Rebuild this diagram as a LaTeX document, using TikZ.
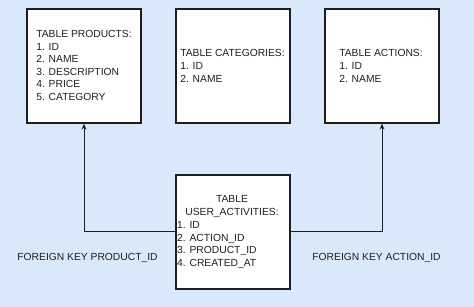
\documentclass[tikz,border=0pt]{standalone}
\usepackage{fontspec}
\setmainfont{Liberation Sans}
\usetikzlibrary{arrows.meta}
\definecolor{bgblue}{HTML}{DAE8FC}
\definecolor{ink}{HTML}{1E1E1E}
\begin{document}
\begin{tikzpicture}[x=1pt,y=-1pt,
  table/.style={draw=ink,line width=1.3pt,fill=white,minimum width=114pt,minimum height=114pt,inner sep=0pt},
  txt/.style={text=ink,font=\fontsize{10.3}{12.6}\selectfont,inner sep=0pt},
  fk/.style={draw=ink,line width=1pt,-{Stealth[length=6pt,width=5pt]}}]
\fill[bgblue] (0,0) rectangle (474,307);
\useasboundingbox (0,0) rectangle (474,307);
\node[table] (prod) at (84,66) {};
\node[table] (cat) at (233,66) {};
\node[table] (act) at (382,66) {};
\node[table] (ua) at (233,232) {};
\node[txt,align=left] (prodt) at (84,65.5) {TABLE PRODUCTS:\\1. ID\\2. NAME\\3. DESCRIPTION\\4. PRICE\\5. CATEGORY};
\node[txt,align=left] (catt) at (232.5,66) {TABLE CATEGORIES:\\1. ID\\2. NAME};
\node[txt,align=left] (actt) at (381,66) {TABLE ACTIONS:\\1. ID\\2. NAME};
\node[txt,align=center] (uat) at (232,206.5) {TABLE\\USER\_ACTIVITIES:};
\node[txt,align=left,anchor=west] (ual) at (177,245) {1. ID\\2. ACTION\_ID\\3. PRODUCT\_ID\\4. CREATED\_AT};
\coordinate (lc) at (84,232);
\coordinate (rc) at (382,232);
\draw[fk] (ua.west) -- (lc) -- (prod.south);
\draw[fk] (ua.east) -- (rc) -- (act.south);
\node[txt] (fk1) at (87.5,258) {FOREIGN KEY PRODUCT\_ID};
\node[txt] (fk2) at (376.5,258) {FOREIGN KEY ACTION\_ID};
\end{tikzpicture}
\end{document}
